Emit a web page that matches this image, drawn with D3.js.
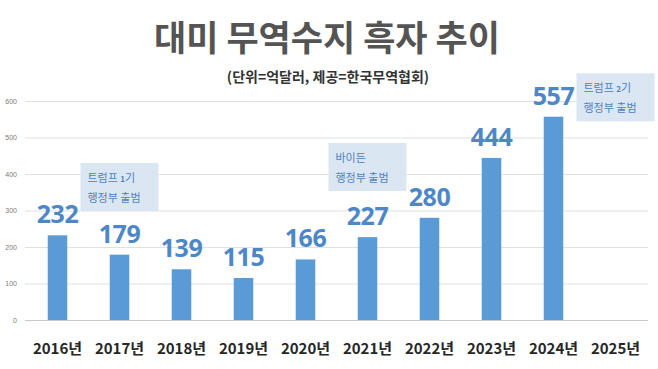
<!DOCTYPE html>
<html>
<head>
<meta charset="utf-8">
<script src="https://cdn.jsdelivr.net/npm/d3@7"></script>
<style>
  body { margin: 0; background: #fff; }
  svg { display: block; }
</style>
</head>
<body>
<svg id="chart" width="658" height="369"></svg>
<script>
// data
const years = ['2016년', '2017년', '2018년', '2019년', '2020년', '2021년', '2022년', '2023년', '2024년', '2025년'];
const surplus = [232, 179, 139, 115, 166, 227, 280, 444, 557, null];
const yTicks = [0, 100, 200, 300, 400, 500, 600];

// notes: year, first line (with small digit), second line
const noteYears = ['2017년', '2021년', '2025년'];
const noteLine1 = [['트럼프 ', '1', '기'], ['바이든', '', ''], ['트럼프 ', '2', '기']];
const noteLine2 = ['행정부 출범', '행정부 출범', '행정부 출범'];
const noteLevels = [430, 485, 676];   // value level of box top

const title = '대미 무역수지 흑자 추이';
const subtitle = '(단위=억달러, 제공=한국무역협회)';

const KR = "'Noto Sans CJK KR', 'Noto Sans', sans-serif";
const BLUE = '#5b9bd5';
const LABEL_BLUE = '#4d87c7';

const svg = d3.select('#chart');

// scales
const xScale = d3.scaleBand()
    .domain(years)
    .range([26.5, 646.5])
    .paddingInner(0.685)
    .paddingOuter(0.3425);

const yScale = d3.scaleLinear()
    .domain([0, 600])
    .range([320, 101]);

// title
svg.append('text')
    .attr('x', 327)
    .attr('y', 51)
    .attr('text-anchor', 'middle')
    .style('font-family', KR)
    .style('font-weight', 'bold')
    .style('font-size', '35px')
    .attr('fill', '#545454')
    .text(title);

svg.append('text')
    .attr('x', 328)
    .attr('y', 82)
    .attr('text-anchor', 'middle')
    .style('font-family', KR)
    .style('font-weight', 'bold')
    .style('font-size', '14px')
    .attr('fill', '#333')
    .text(subtitle);

// y axis with gridlines
const yAxis = svg.append('g')
    .attr('transform', 'translate(25,0)')
    .call(d3.axisLeft(yScale).tickValues(yTicks).tickSize(-623).tickPadding(8));

yAxis.select('.domain').remove();
yAxis.selectAll('.tick line')
    .attr('stroke', (d) => d === 0 ? '#c8c8c8' : '#e0e0e0');
yAxis.selectAll('.tick text')
    .attr('fill', '#7a7a7a')
    .style('font-family', "'Liberation Sans', sans-serif")
    .style('font-size', '7px');

// bars
const dataset = years.map((y, i) => ({year: y, value: surplus[i]})).filter((d) => d.value !== null);

svg.append('g')
    .selectAll('rect')
    .data(dataset)
    .enter()
    .append('rect')
    .attr('x', (d) => xScale(d.year))
    .attr('y', (d) => yScale(d.value))
    .attr('width', xScale.bandwidth())
    .attr('height', (d) => yScale(0) - yScale(d.value))
    .attr('fill', BLUE);

// value labels
svg.append('g')
    .selectAll('text')
    .data(dataset)
    .enter()
    .append('text')
    .attr('x', (d) => xScale(d.year) + xScale.bandwidth() / 2)
    .attr('y', (d) => yScale(d.value) - 12)
    .attr('text-anchor', 'middle')
    .style('font-family', "'Noto Sans', sans-serif")
    .style('font-weight', 'bold')
    .style('font-size', '25px')
    .style('letter-spacing', '-0.5px')
    .attr('fill', LABEL_BLUE)
    .text((d) => d.value);

// x axis labels
const xAxis = svg.append('g')
    .attr('transform', 'translate(0,320)')
    .call(d3.axisBottom(xScale).tickSize(0).tickPadding(23));

xAxis.select('.domain').remove();
xAxis.selectAll('.tick text')
    .attr('fill', '#262626')
    .style('font-family', KR)
    .style('font-weight', 'bold')
    .style('font-size', '15px');

// annotation boxes
const notes = svg.append('g');
noteYears.forEach((yr, i) => {
    const cx = xScale(yr) + xScale.bandwidth() / 2;
    const top = yScale(noteLevels[i]);
    const g = notes.append('g').attr('transform', `translate(${cx - 39},${top})`);

    g.append('rect')
        .attr('width', 78)
        .attr('height', 48)
        .attr('fill', '#dbe6f3');

    const t1 = g.append('text')
        .attr('x', 7)
        .attr('y', 19)
        .style('font-family', KR)
        .style('font-size', '11px')
        .attr('fill', '#4f81bd');
    t1.append('tspan').text(noteLine1[i][0]);
    t1.append('tspan').style('font-size', '8px').style('font-weight', 'bold').text(noteLine1[i][1]);
    t1.append('tspan').text(noteLine1[i][2]);

    g.append('text')
        .attr('x', 7)
        .attr('y', 39)
        .style('font-family', KR)
        .style('font-size', '11px')
        .attr('fill', '#4f81bd')
        .text(noteLine2[i]);
});
</script>
</body>
</html>
